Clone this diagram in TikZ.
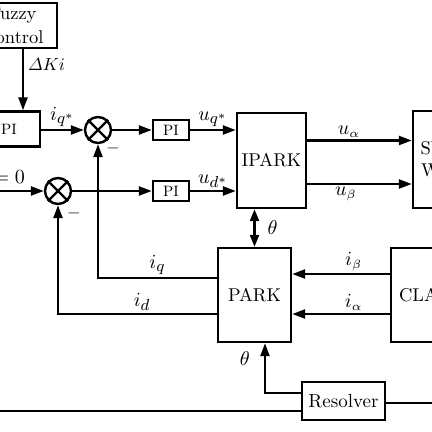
\documentclass[tikz,border=0pt]{standalone}
\usepackage{amsmath,amssymb}
\usepackage{graphicx}
\usepackage{tikz}
\usetikzlibrary{arrows.meta}
% larger subscripts, as in the drawing
\DeclareMathSizes{10}{10}{8.5}{6}
\newcommand{\lbl}[2][2]{\scalebox{#1}{$#2$}}
\newcommand{\txt}[2][1.85]{\scalebox{#1}{#2}}

\begin{document}
\begin{tikzpicture}[x=1pt,y=-1pt,line width=2.4pt]
% Styles
\tikzstyle{block}=[draw,rectangle,inner sep=0pt,align=center]
\tikzstyle{small block}=[block,minimum width=36pt,minimum height=20pt]
\tikzstyle{sum}=[draw,circle,minimum size=26pt,inner sep=0pt]
\tikzstyle{sig}=[-{Triangle[length=13pt,width=9pt]}]
\tikzstyle{lab}=[inner sep=2pt]
\useasboundingbox (0,0) rectangle (432,432);
\clip (0,0) rectangle (432,432);
% the blocks
\node[block,minimum width=88pt,minimum height=45pt] (fuzzy) at (13,25.5)
  {\txt{\shortstack{Fuzzy\\[1pt]Control}}};
\node[block,minimum width=62pt,minimum height=35pt] (pi0) at (9,129) {\txt[1.5]{PI}};
\node[sum] (c1) at (98,130) {};
\node[small block] (piq) at (171,130) {\txt[1.5]{PI}};
\node[sum] (c2) at (58,191) {};
\node[small block] (pid) at (171,191) {\txt[1.5]{PI}};
\node[block,minimum width=69pt,minimum height=95pt] (ipark) at (271.5,160.5) {\txt{IPARK}};
\node[block,minimum width=52pt,minimum height=97pt] (svpwm) at (439,159.5)
  {\txt{\shortstack{SVP\\[2pt]WM}}};
\node[block,minimum width=73pt,minimum height=94pt] (park) at (254.5,295) {\txt{PARK}};
\node[block,minimum width=83pt,minimum height=94pt] (clark) at (432.5,295) {\txt{CLARK}};
\node[block,minimum width=83pt,minimum height=38pt] (resolver) at (343.5,401) {\txt[1.9]{Resolver}};
% the summing points
\foreach \c in {c1,c2} {
  \draw (\c.north west) -- (\c.south east);
  \draw (\c.north east) -- (\c.south west);
}
\node[lab] (m1) at (113,151) {\txt{\textbf{--}}};
\node[lab] (m2) at (74,216) {\txt{\textbf{--}}};
% free ends
\coordinate (idin) at (0,191);
\coordinate (shaftL) at (0,411);
\coordinate (shaftR) at (432,403);
\coordinate (ua) at ([yshift=20pt]ipark.east);
\coordinate (ub) at ([yshift=-23.5pt]ipark.east);
\coordinate (ib) at ([yshift=21pt]clark.west);
\coordinate (ia) at ([yshift=-19pt]clark.west);
\coordinate (iqo) at ([yshift=17pt]park.west);
\coordinate (ido) at ([yshift=-19pt]park.west);
% the signals
\draw[sig] ([xshift=10pt]fuzzy.south) -- ([xshift=14pt]pi0.north)
  node[pos=.25,right=2pt,lab] {\lbl[1.75]{\varDelta Ki}};
\draw[sig] (pi0.east |- c1) -- (c1) node[midway,above,lab] {\lbl{i_{q^*}}};
\draw[sig] (c1) -- (piq);
\draw[sig] (piq.east) -- (piq.east -| ipark.west) node[midway,above,lab] {\lbl{u_{q^*}}};
\node[lab,anchor=base east] (idref) at (28,183) {\lbl{i_{d^*}=0}};
\draw[sig] (idin) -- (c2);
\draw[sig] (c2) -- (pid);
\draw[sig] (pid.east) -- (pid.east -| ipark.west) node[midway,above,lab] {\lbl{u_{d^*}}};
\draw[sig] (ua) -- (ua -| svpwm.west) node[pos=.4,above,lab] {\lbl{u_{\scriptscriptstyle\alpha}}};
\draw[sig] (ub) -- (ub -| svpwm.west) node[pos=.37,below,lab] {\lbl{u_{\scriptscriptstyle\beta}}};
\draw[{Triangle[length=12pt,width=9pt]}-{Triangle[length=12pt,width=9pt]}]
  (park.north |- ipark.south) -- (park.north) node[midway,right=10pt,lab] {\lbl{\theta}};
\draw[sig] (ib) -- (ib -| park.east) node[pos=.37,above,lab] {\lbl{i_{\scriptscriptstyle\beta}}};
\draw[sig] (ia) -- (ia -| park.east) node[pos=.37,above,lab] {\lbl{i_{\scriptscriptstyle\alpha}}};
% feedback to the summing points
\draw[sig] (iqo) -- (iqo -| c1) node[midway,above,lab] {\lbl{i_q}} -- (c1);
\draw[sig] (ido) -- (ido -| c2) node[pos=.47,above,lab] {\lbl{i_d}} -- (c2);
% resolver
\draw[sig] ([yshift=8pt]resolver.west) -| ([xshift=10.5pt]park.south)
  node[pos=.85,left=12pt,lab] {\lbl{\theta}};
\draw (shaftL) -- (shaftL -| resolver.west);
\draw (resolver.east |- shaftR) -- (shaftR);
\end{tikzpicture}
\end{document}
